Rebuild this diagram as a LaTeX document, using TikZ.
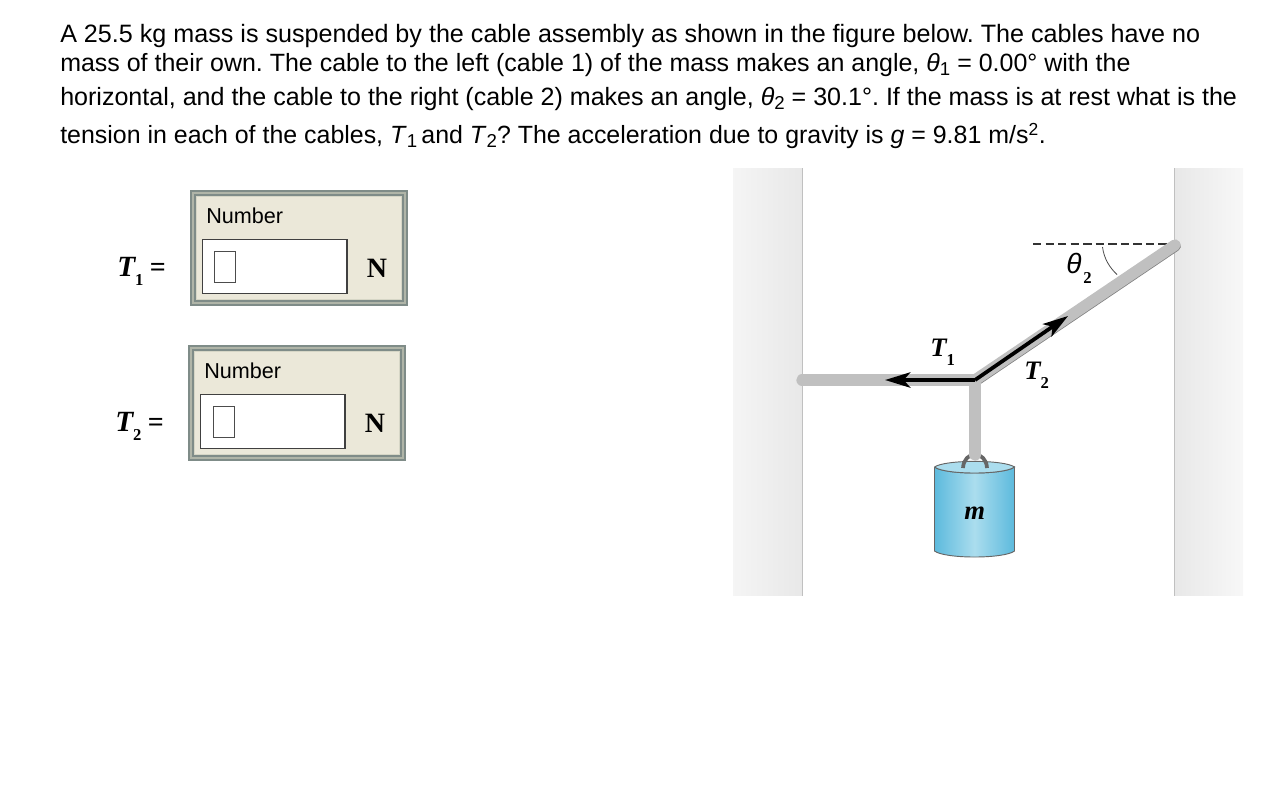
\documentclass[tikz,border=0pt]{standalone}
\usepackage{fontspec}
\setmainfont{Liberation Sans}
\newfontfamily\figfont{Liberation Serif}
\usetikzlibrary{arrows.meta,calc}

\definecolor{cablegray}{HTML}{C0C0C0}
\definecolor{boxfill}{HTML}{EBE8D9}
\definecolor{boxedge}{HTML}{7F8C88}
\definecolor{boxedgein}{HTML}{B0B5A8}
\definecolor{boxring}{HTML}{D6D6C6}
\definecolor{massblue}{HTML}{5CBADD}
\definecolor{masslight}{HTML}{ABDDEE}

% small index in the running text
\newcommand{\tsub}[1]{\raisebox{-0.18em}{\fontsize{14pt}{14pt}\selectfont #1}}
% letter with bold index, size given first
\newcommand{\figsym}[3]{{\figfont\fontsize{#1}{#1}\selectfont\bfseries\itshape #2\raisebox{-6.75pt}{\fontsize{12.5pt}{12.5pt}\selectfont\upshape #3}}}

\tikzset{
    textline/.style={anchor=base west,inner sep=0pt,font=\fontsize{18.85pt}{18.85pt}\selectfont},
    numbox/.style={draw=boxedge,double=boxedgein,line width=1.4pt,double distance=1.5pt,fill=boxfill,
        minimum width=159.2pt,minimum height=82.7pt,inner sep=0pt},
    ringbox/.style={draw=boxring,line width=1pt,minimum width=153.9pt,minimum height=77.4pt,inner sep=0pt},
    inputbox/.style={draw=black!75,fill=white,line width=1pt,minimum width=108.5pt,minimum height=40.5pt,inner sep=0pt},
    cursorbox/.style={draw=black!70,fill=white,line width=0.5pt,minimum width=16pt,minimum height=23pt,inner sep=0pt},
    numlabel/.style={anchor=base west,inner sep=0pt,font=\fontsize{16.2pt}{16.2pt}\selectfont},
    unitlabel/.style={anchor=base,inner sep=0pt,font=\figfont\fontsize{21pt}{21pt}\selectfont\bfseries},
    figlabel/.style={anchor=base west,inner sep=0pt},
    cable/.style={cablegray,line width=8.5pt,line cap=round},
    pullarrow/.style={black,line width=2.8pt,-{Stealth[length=19pt,width=11.5pt,inset=5pt]}}
}

\begin{document}
\frenchspacing
\begin{tikzpicture}[x=0.75pt,y=-0.75pt]
    \useasboundingbox (0,0) rectangle (1284,790);

    % question text
    \node[textline] (line1) at (60,42) {A 25.5 kg mass is suspended by the cable assembly as shown in the figure below. The cables have no};
    \node[textline,font=\fontsize{18.73pt}{18.73pt}\selectfont] (line2) at (60,71) {mass of their own. The cable to the left (cable 1) of the mass makes an angle, \textit{θ}\tsub{1} = 0.00° with the};
    \node[textline,font=\fontsize{18.79pt}{18.79pt}\selectfont] (line3) at (60,105) {horizontal, and the cable to the right (cable 2) makes an angle, \textit{θ}\tsub{2} = 30.1°. If the mass is at rest what is the};
    \node[textline,font=\fontsize{18.7pt}{18.7pt}\selectfont] (line4) at (60,143.5) {tension in each of the cables, \textit{T}\tsub{1}\,and \textit{T}\tsub{2}? The acceleration due to gravity is \textit{g} = 9.81 m/s\textsuperscript{2}.};

    % first answer box
    \node[numbox] (box1) at (299,248) {};
    \node[ringbox] (ring1) at (299,248) {};
    \node[numlabel] (num1) at (206,223) {Number};
    \node[inputbox] (input1) at (274.5,266.5) {};
    \node[cursorbox] (cursor1) at (225,267) {};
    \node[unitlabel] (unit1) at (377,277) {N};
    \node[figlabel] (t1) at (117,276) {\figsym{22pt}{T}{1}};
    \node[figlabel] (eq1) at (149.5,276) {\figfont\fontsize{21pt}{21pt}\selectfont\bfseries =};

    % second answer box
    \node[numbox] (box2) at (297,403) {};
    \node[ringbox] (ring2) at (297,403) {};
    \node[numlabel] (num2) at (204,378) {Number};
    \node[inputbox] (input2) at (272.5,421.5) {};
    \node[cursorbox] (cursor2) at (224,422) {};
    \node[unitlabel] (unit2) at (375,432) {N};
    \node[figlabel] (t2) at (115,431) {\figsym{22pt}{T}{2}};
    \node[figlabel] (eq2) at (147.5,431) {\figfont\fontsize{21pt}{21pt}\selectfont\bfseries =};

    % the two walls
    \shade[left color=black!4,right color=black!9] (733,168) rectangle (802,595.5);
    \shade[left color=black!9,right color=black!3] (1175,168) rectangle (1243,595.5);
    \draw[cablegray,line width=0.8pt] (802.5,168) -- (802.5,595.5);
    \draw[cablegray,line width=0.8pt] (1174.5,168) -- (1174.5,595.5);

    % points where the cables meet
    \coordinate (knot) at (975,380);
    \coordinate (leftend) at (802,380);
    \coordinate (rightend) at (1175,245);
    \coordinate (hook) at (975,455);
    \coordinate (tipleft) at (885,380);
    \coordinate (tipright) at (1068,316);

    % dashed horizontal and the angle
    \coordinate (dashend) at (1033,244);
    \coordinate (dashwall) at (1175,244);
    \draw[black!80,line width=0.8pt,dash pattern=on 6.3pt off 3.1pt] (dashend) -- (dashwall);
    \draw[black!70,line width=0.6pt] (1102.5,247) .. controls (1104,259) and (1110,268) .. (1117,274.5);
    \node[figlabel] (theta) at (1066,273) {\fontsize{21pt}{21pt}\selectfont\textit{θ}};
    \node[figlabel] (index) at (1083,283.5) {\figfont\fontsize{12.5pt}{12.5pt}\selectfont\bfseries 2};

    % the mass
    \shade[left color=massblue,right color=massblue,middle color=masslight,draw=black!60,line width=0.7pt]
        (934.5,467) -- (934.5,551) .. controls (945,559) and (1004,559) .. (1014.5,551) -- (1014.5,467)
        .. controls (1004,475) and (945,475) .. (934.5,467);
    \fill[masslight,draw=black!60,line width=0.7pt] (934.5,467) .. controls (945,459.5) and (1004,459.5) .. (1014.5,467)
        .. controls (1004,475) and (945,475) .. (934.5,467);
    \node[figlabel] (mass) at (964,519) {\figsym{20pt}{m}{}};

    % handle of the mass
    \draw[black!60,line width=2.8pt] (963,468) .. controls (963.5,459) and (969,455) .. (975,454)
        .. controls (981,455) and (986.5,459) .. (987,468);

    % the cables
    \draw[black!50,line width=7.6pt,line cap=round] ($(knot)+(0.8,1.1)$) -- ($(rightend)+(0.8,1.1)$);
    \draw[cable] (knot) -- (leftend);
    \draw[cable] (knot) -- (rightend);
    \draw[cable] (knot) -- (hook);

    % arrows along the cables
    \draw[pullarrow] (knot) -- (tipleft);
    \draw[pullarrow] (knot) -- (tipright);
    \node[figlabel] (t1label) at (930,356) {\figsym{20pt}{T}{1}};
    \node[figlabel] (t2label) at (1024,379) {\figsym{20pt}{T}{2}};
\end{tikzpicture}
\end{document}
